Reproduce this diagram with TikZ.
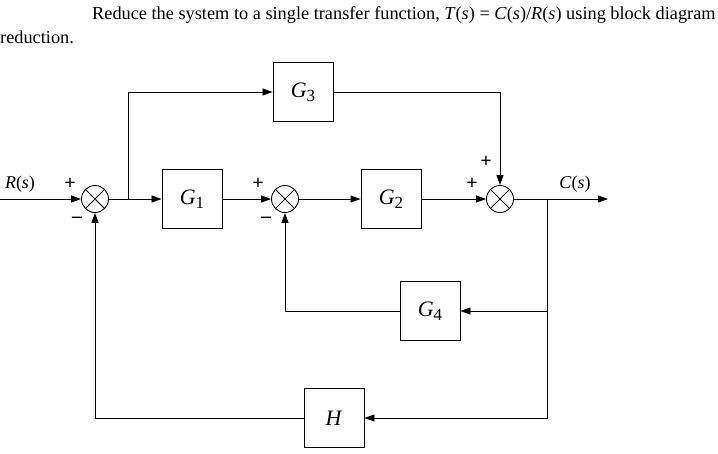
\documentclass[tikz,border=0pt]{standalone}
\usepackage{fontspec}
\setmainfont{Liberation Serif}
\usetikzlibrary{arrows.meta}
\newcommand{\gsub}[2]{\textit{#1}\raisebox{-4pt}{\fontsize{17}{18}\selectfont #2}}
\begin{document}
\begin{tikzpicture}[x=1pt,y=-1pt,
 blk/.style={draw,line width=0.9pt,minimum width=60pt,minimum height=59pt,inner sep=0pt,font=\fontsize{22}{24}\selectfont},
 sum/.style={draw,circle,line width=0.9pt,minimum size=27pt,inner sep=0pt,path picture={\draw[line width=0.9pt] (path picture bounding box.south west)--(path picture bounding box.north east) (path picture bounding box.north west)--(path picture bounding box.south east);}},
 ar/.style={line width=0.8pt,-{Triangle[length=10pt,width=7pt]}},
 lab/.style={font=\fontsize{18}{20}\selectfont,inner sep=0pt},
 sg/.style={font=\bfseries\fontsize{20}{20}\selectfont,inner sep=0pt}]
\useasboundingbox (0,0) rectangle (718,453);
\node[anchor=west,inner sep=0pt,font=\fontsize{18.3}{20}\selectfont] (t1) at (92,15) {Reduce the system to a single transfer function, \textit{T}(\textit{s}) = \textit{C}(\textit{s})/\textit{R}(\textit{s}) using block diagram};
\node[anchor=west,inner sep=0pt,font=\fontsize{18.3}{20}\selectfont] (t2) at (0,37) {reduction.};
\node[sum] (s1) at (95,199) {};
\node[sum] (s2) at (285,199) {};
\node[sum] (s3) at (500,199) {};
\node[blk] (g1) at (192,199) {\gsub{G}{1}};
\node[blk] (g2) at (391,199) {\gsub{G}{2}};
\node[blk] (g3) at (303,92) {\gsub{G}{3}};
\node[blk] (g4) at (430,311) {\gsub{G}{4}};
\node[blk] (h) at (334,418) {\textit{H}};
\coordinate (in) at (0,199);
\coordinate (out) at (608,199);
\coordinate (b1) at (128,199);
\coordinate (b2) at (547,199);
\node[lab] (R) at (20,184) {\textit{R}(\textit{s})};
\node[lab] (C) at (575,184) {\textit{C}(\textit{s})};
\draw[ar] (in) -- (s1);
\draw[ar] (s1) -- (g1);
\draw[ar] (g1) -- (s2);
\draw[ar] (s2) -- (g2);
\draw[ar] (g2) -- (s3);
\draw[ar] (s3) -- (out);
\draw[ar] (b1) |- (g3);
\draw[ar] (g3) -| (s3);
\draw[ar] (b2) |- (g4);
\draw[ar] (g4) -| (s2);
\draw[ar] (b2) |- (h);
\draw[ar] (h) -| (s1);
\node[sg] at (70,184) {+};
\node[sg] at (77,220) {\textendash};
\node[sg] at (258,184) {+};
\node[sg] at (266,220) {\textendash};
\node[sg] at (472,184) {+};
\node[sg] at (486,162) {+};
\end{tikzpicture}
\end{document}
